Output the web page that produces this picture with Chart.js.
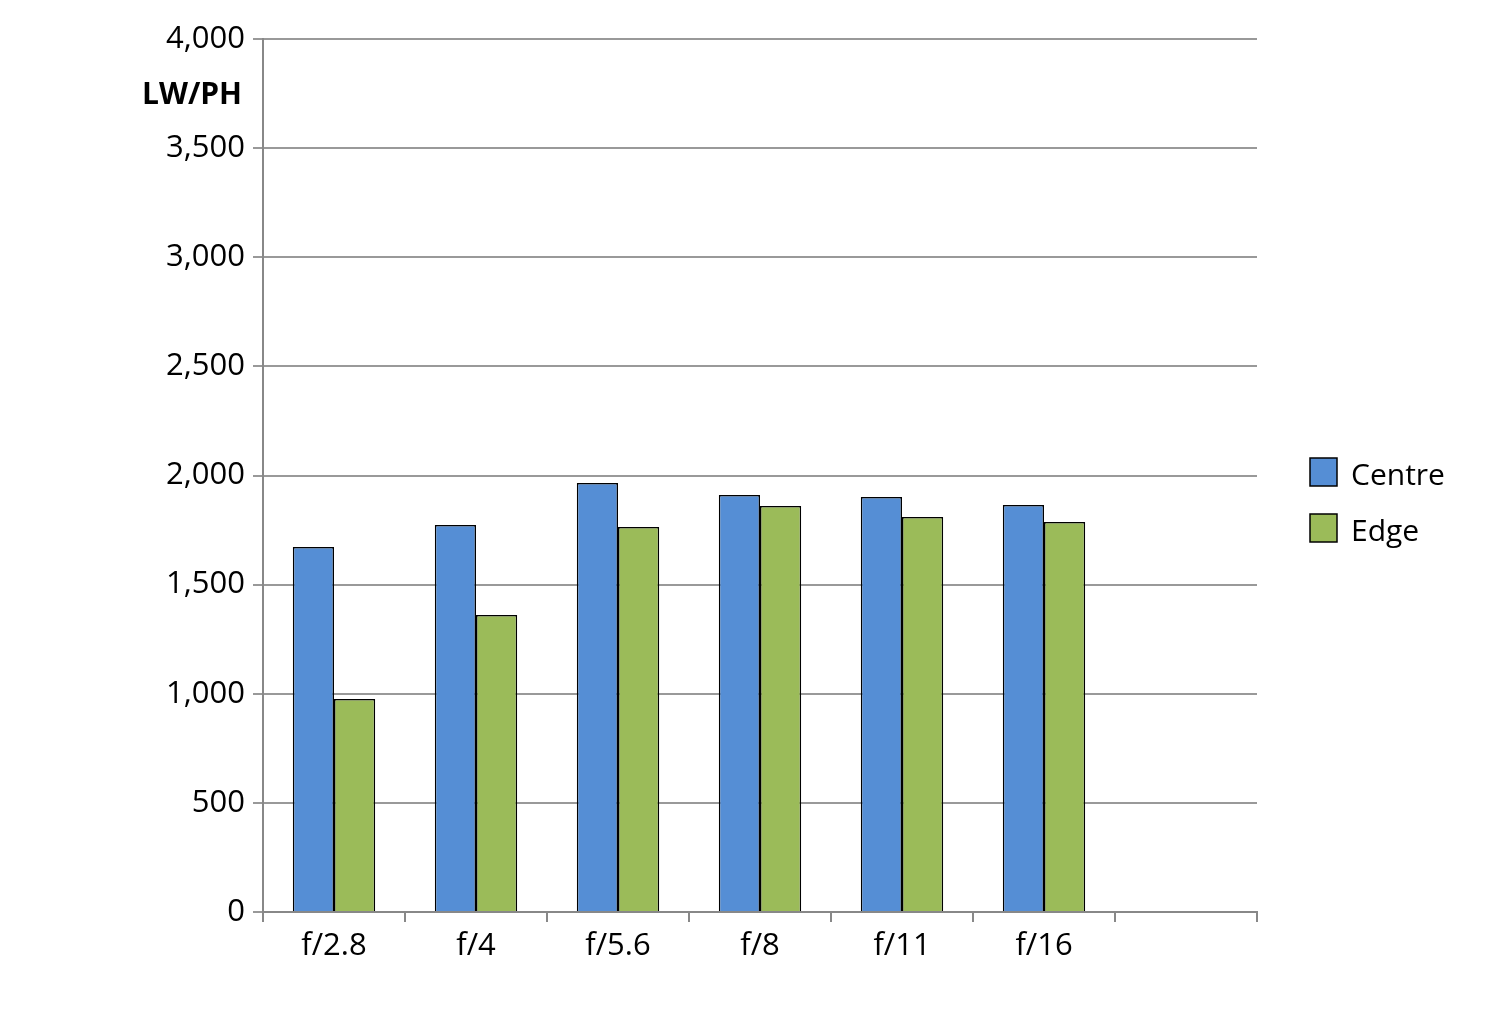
<!DOCTYPE html>
<html>
<head>
<meta charset="utf-8">
<script src="https://cdn.jsdelivr.net/npm/chart.js@4/dist/chart.umd.min.js"></script>
<style>
  html, body { margin: 0; padding: 0; background: #fff; }
  #wrap { width: 1500px; height: 1010px; }
</style>
</head>
<body>
<div id="wrap"><canvas id="c" width="1500" height="1010"></canvas></div>
<script>
const categories = ["f/2.8", "f/4", "f/5.6", "f/8", "f/11", "f/16", ""];
const centre = [1672, 1773, 1966, 1911, 1901, 1865, null];
const edge = [976, 1361, 1764, 1860, 1810, 1787, null];
const seriesNames = ["Centre", "Edge"];
const seriesColors = ["#558ed5", "#9bbb59"];

const fontFamily = "'Open Sans', 'Liberation Sans', sans-serif";

// y-axis title and right-hand legend
const extras = {
    id: "extras",
    afterDraw(chart) {
        const ctx = chart.ctx;
        ctx.save();
        ctx.fillStyle = "#000";
        ctx.font = "bold 30px " + fontFamily;
        ctx.textAlign = "center";
        ctx.textBaseline = "middle";
        ctx.fillText("LW/PH", 192, 95);

        ctx.font = "30px " + fontFamily;
        ctx.textAlign = "left";
        seriesNames.forEach((name, i) => {
            const y = 472 + i * 56;
            ctx.fillStyle = seriesColors[i];
            ctx.fillRect(1310, y - 14, 27, 28);
            ctx.strokeStyle = "#000";
            ctx.lineWidth = 1.5;
            ctx.strokeRect(1310, y - 14, 27, 28);
            ctx.fillStyle = "#000";
            ctx.fillText(name, 1351, y + 4);
        });
        ctx.restore();
    }
};

new Chart(document.getElementById("c"), {
    type: "bar",
    data: {
        labels: categories,
        datasets: [
            { label: seriesNames[0], data: centre, backgroundColor: seriesColors[0], borderColor: "#000", borderWidth: 1.5 },
            { label: seriesNames[1], data: edge, backgroundColor: seriesColors[1], borderColor: "#000", borderWidth: 1.5 }
        ]
    },
    options: {
        responsive: false,
        animation: false,
        layout: { padding: { top: 39, right: 243, left: 0, bottom: 0 } },
        datasets: { bar: { categoryPercentage: 0.58, barPercentage: 1.0 } },
        plugins: { legend: { display: false }, tooltip: { enabled: false } },
        scales: {
            x: {
                grid: { display: true, drawOnChartArea: false, color: "#888", lineWidth: 2, tickLength: 10, offset: true },
                border: { color: "#888", width: 2 },
                ticks: { color: "#000", font: { size: 31, family: fontFamily }, padding: 6 },
                afterFit(scale) { scale.height = 98; }
            },
            y: {
                min: 0, max: 4000,
                ticks: { stepSize: 500, color: "#000", font: { size: 31, family: fontFamily }, padding: 8 },
                grid: { color: "#999", lineWidth: 2, tickLength: 10 },
                border: { color: "#888", width: 2 },
                afterFit(scale) { scale.width = 263; }
            }
        }
    },
    plugins: [extras]
});
</script>
</body>
</html>
